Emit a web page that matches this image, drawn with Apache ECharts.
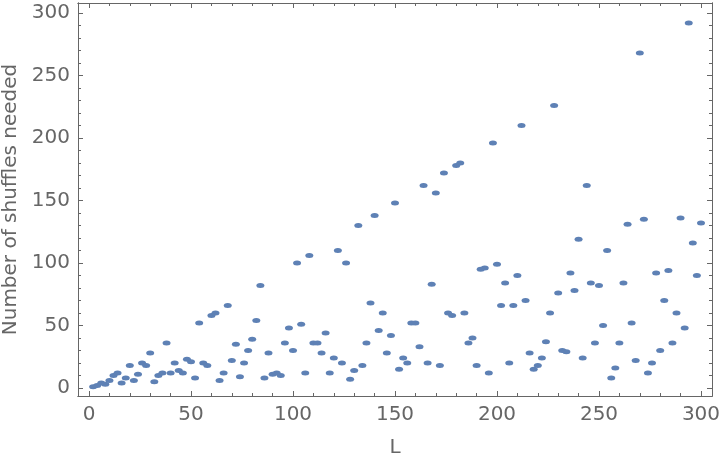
<!DOCTYPE html>
<html><head><meta charset="utf-8">
<script src="https://cdn.jsdelivr.net/npm/echarts@6/dist/echarts.min.js"></script>
<style>html,body{margin:0;padding:0;background:#fff}#c{width:720px;height:460px}</style>
</head><body><div id="c"></div>
<script>
// Deck sizes L (even) and number of perfect shuffles needed
const deckSizes = [
2,4,6,8,10,12,14,16,18,20,22,24,26,28,30,32,34,36,38,40,
42,44,46,48,50,52,54,56,58,60,62,64,66,68,70,72,74,76,78,80,
82,84,86,88,90,92,94,96,98,100,102,104,106,108,110,112,114,116,118,120,
122,124,126,128,130,132,134,136,138,140,142,144,146,148,150,152,154,156,158,160,
162,164,166,168,170,172,174,176,178,180,182,184,186,188,190,192,194,196,198,200,
202,204,206,208,210,212,214,216,218,220,222,224,226,228,230,232,234,236,238,240,
242,244,246,248,250,252,254,256,258,260,262,264,266,268,270,272,274,276,278,280,
282,284,286,288,290,292,294,296,298,300
];
const shufflesNeeded = [
1,2,4,3,6,10,12,4,8,18,6,11,20,18,28,5,10,12,36,12,
20,14,12,23,21,8,52,20,18,58,60,6,12,66,22,35,9,20,30,39,
54,82,8,28,11,12,10,36,48,30,100,51,12,106,36,36,28,44,12,24,
110,20,100,7,14,130,18,36,68,138,46,60,28,42,148,15,24,20,52,52,
33,162,20,83,156,18,172,60,58,178,180,60,36,40,18,95,96,12,196,99,
66,84,20,66,90,210,70,28,15,18,24,37,60,226,76,30,29,92,78,119,
24,162,84,36,82,50,110,8,16,36,84,131,52,22,268,135,12,20,92,30,
70,94,36,60,136,48,292,116,90,132
];
const xTicks = [0,50,100,150,200,250,300];
const yTicks = [0,50,100,150,200,250,300];
const xMinor = [0,10,20,30,40,60,70,80,90,110,120,130,140,160,170,180,190,210,220,230,240,260,270,280,290,300];
const yMinor = [0,10,20,30,40,60,70,80,90,110,120,130,140,160,170,180,190,210,220,230,240,260,270,280,290,300];

const points = deckSizes.map((l,i)=>[l, shufflesNeeded[i]]);
const XMIN=-5.4, XMAX=305.4, YMIN=-6.4, YMAX=308;
const fc = '#666666';
const font = 'DejaVu Sans';
function xa(pos, vals, len, labels, extra){
  return Object.assign({type:'value', position:pos, min:XMIN, max:XMAX,
    axisLine:{show:true, onZero:false, lineStyle:{color:fc, width:1}},
    splitLine:{show:false},
    axisTick:{show:true, inside:true, length:len, customValues:vals, lineStyle:{color:fc}},
    axisLabel:{show:labels, customValues:xTicks, color:fc, fontSize:20, fontFamily:font, margin:9}
  }, extra||{});
}
function ya(pos, vals, len, labels, extra){
  return Object.assign({type:'value', position:pos, min:YMIN, max:YMAX,
    axisLine:{show:true, onZero:false, lineStyle:{color:fc, width:1}},
    splitLine:{show:false},
    axisTick:{show:true, inside:true, length:len, customValues:vals, lineStyle:{color:fc}},
    axisLabel:{show:labels, customValues:yTicks, color:fc, fontSize:20, fontFamily:font, margin:8}
  }, extra||{});
}
const chart = echarts.init(document.getElementById('c'), null, {renderer:'canvas'});
chart.setOption({
  animation:false,
  grid:{left:78, right:8, top:3, bottom:64, containLabel:false, outerBoundsMode:'none'},
  xAxis:[
    xa('bottom', xTicks, 5, true, {name:'L', nameLocation:'middle', nameGap:42,
       nameTextStyle:{color:fc, fontSize:20, fontFamily:font}}),
    xa('bottom', xMinor, 3, false),
    xa('top', xTicks, 5, false),
    xa('top', xMinor, 3, false)
  ],
  yAxis:[
    ya('left', yTicks, 5, true, {name:'Number of shuffles needed', nameLocation:'middle', nameGap:50,
       nameTextStyle:{color:fc, fontSize:20, fontFamily:font}}),
    ya('left', yMinor, 3, false),
    ya('right', yTicks, 5, false),
    ya('right', yMinor, 3, false)
  ],
  series:[{type:'scatter', xAxisIndex:0, yAxisIndex:0, data:points,
    symbol:'circle', symbolSize:[8,5], itemStyle:{color:'#5E81B5', opacity:1}}]
});
</script></body></html>
